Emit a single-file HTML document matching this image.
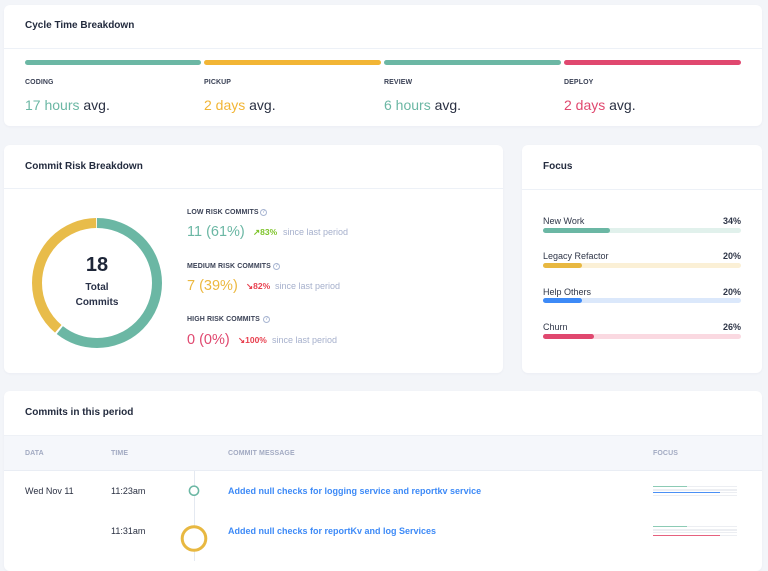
<!DOCTYPE html>
<html><head><meta charset="utf-8"><style>
*{margin:0;padding:0;box-sizing:border-box}
body{width:768px;height:554px;overflow:hidden;background:#f3f5f9;position:relative;font-family:"Liberation Sans",sans-serif;color:#232b3e}
.card{position:absolute;background:#fff;border-radius:6px;box-shadow:0 1px 2px rgba(40,60,100,0.04)}
.hr{position:absolute;height:1px;background:#edf1f7}
.t{position:absolute;white-space:nowrap;line-height:1}
.ttl{font-size:10px;font-weight:bold;color:#232b3e}
.lab{font-size:7px;font-weight:bold;color:#3b4256;letter-spacing:0.1px}
.val{font-size:14px;color:#2a3042}
.bar{position:absolute;height:5px;border-radius:3px}
.rv{font-size:14.5px}
.ch{font-size:8.5px;font-weight:bold}
.since{font-size:9px;color:#a6b0cc}
.q{position:absolute;width:7px;height:7px;border:1px solid #a9b6d2;border-radius:50%;font-size:5px;line-height:5px;text-align:center;color:#a9b6d2;font-weight:bold}
.fl{font-size:9px;color:#2f3648}
.fp{font-size:9px;font-weight:bold;color:#2f3648}
.hd{font-size:7px;font-weight:bold;color:#a2aac2;letter-spacing:0.1px}
.cell{font-size:9px;color:#2a3042}
.msg{font-size:9px;font-weight:bold;color:#3d8af7}
.ml{position:absolute;height:1.4px;background:#eceef2}
</style></head><body>

<!-- Card 1 -->
<div class="card" style="left:4px;top:5px;width:758px;height:121px"></div>
<div class="hr" style="left:4px;top:48px;width:758px"></div>
<div class="t ttl" style="left:25px;top:21px">Cycle Time Breakdown</div>
<div class="bar" style="left:25px;top:60px;width:176px;background:#6bb7a4"></div>
<div class="bar" style="left:204px;top:60px;width:177px;background:#f2b535"></div>
<div class="bar" style="left:384px;top:60px;width:177px;background:#6bb7a4"></div>
<div class="bar" style="left:564px;top:60px;width:177px;background:#e0486f"></div>
<div class="t lab" style="left:25px;top:78.5px">CODING</div>
<div class="t lab" style="left:204px;top:78.5px">PICKUP</div>
<div class="t lab" style="left:384px;top:78.5px">REVIEW</div>
<div class="t lab" style="left:564px;top:78.5px">DEPLOY</div>
<div class="t val" style="left:25px;top:98px"><span style="color:#6bb7a4">17 hours</span> avg.</div>
<div class="t val" style="left:204px;top:98px"><span style="color:#f2b535">2 days</span> avg.</div>
<div class="t val" style="left:384px;top:98px"><span style="color:#6bb7a4">6 hours</span> avg.</div>
<div class="t val" style="left:564px;top:98px"><span style="color:#e0486f">2 days</span> avg.</div>

<!-- Card 2 -->
<div class="card" style="left:4px;top:145px;width:499px;height:228px"></div>
<div class="hr" style="left:4px;top:188px;width:499px"></div>
<div class="t ttl" style="left:25px;top:162px">Commit Risk Breakdown</div>
<svg style="position:absolute;left:0;top:0" width="768" height="554">
  <g transform="rotate(-90 97 283)">
    <circle cx="97" cy="283" r="60" fill="none" stroke="#6bb7a4" stroke-width="10" stroke-dasharray="228.5 400"/>
    <circle cx="97" cy="283" r="60" fill="none" stroke="#e8bc4a" stroke-width="10" stroke-dasharray="145.5 400" stroke-dashoffset="-230.5"/>
  </g>
</svg>
<div class="t" style="left:47px;width:100px;text-align:center;top:255px;font-size:20px;font-weight:bold;color:#1e2638">18</div>
<div class="t" style="left:47px;width:100px;text-align:center;top:283px;font-size:10px;font-weight:bold;color:#2a3248">Total</div>
<div class="t" style="left:47px;width:100px;text-align:center;top:298px;font-size:10px;font-weight:bold;color:#2a3248">Commits</div>

<div class="t lab" style="left:187px;top:208.5px">LOW RISK COMMITS</div>
<div class="q" style="left:260px;top:208.5px">?</div>
<div class="t rv" style="left:187px;top:225px;color:#6bb7a4">11 (61%)</div>
<div class="t ch" style="left:253px;top:228px;color:#7dc329">↗83%</div>
<div class="t since" style="left:283px;top:227.5px">since last period</div>

<div class="t lab" style="left:187px;top:262.5px">MEDIUM RISK COMMITS</div>
<div class="q" style="left:273px;top:262.5px">?</div>
<div class="t rv" style="left:187px;top:279px;color:#ecb83f">7 (39%)</div>
<div class="t ch" style="left:246px;top:282px;color:#e8404f">↘82%</div>
<div class="t since" style="left:275px;top:281.5px">since last period</div>

<div class="t lab" style="left:187px;top:315.5px">HIGH RISK COMMITS</div>
<div class="q" style="left:263px;top:315.5px">?</div>
<div class="t rv" style="left:187px;top:333px;color:#e0486f">0 (0%)</div>
<div class="t ch" style="left:238px;top:336px;color:#e8404f">↘100%</div>
<div class="t since" style="left:272px;top:335.5px">since last period</div>

<!-- Card 3 -->
<div class="card" style="left:522px;top:145px;width:240px;height:228px"></div>
<div class="hr" style="left:522px;top:189px;width:240px"></div>
<div class="t ttl" style="left:543px;top:162px">Focus</div>

<div class="t fl" style="left:543px;top:216.5px">New Work</div>
<div class="t fp" style="left:680px;width:61px;text-align:right;top:216.5px">34%</div>
<div class="bar" style="left:543px;top:227.5px;width:198px;background:#e1f1ec"></div>
<div class="bar" style="left:543px;top:227.5px;width:67px;background:#6bb7a4"></div>

<div class="t fl" style="left:543px;top:251.5px">Legacy Refactor</div>
<div class="t fp" style="left:680px;width:61px;text-align:right;top:251.5px">20%</div>
<div class="bar" style="left:543px;top:262.7px;width:198px;background:#fbf0d6"></div>
<div class="bar" style="left:543px;top:262.7px;width:39px;background:#e8b841"></div>

<div class="t fl" style="left:543px;top:287.5px">Help Others</div>
<div class="t fp" style="left:680px;width:61px;text-align:right;top:287.5px">20%</div>
<div class="bar" style="left:543px;top:298.3px;width:198px;background:#dbe8fb"></div>
<div class="bar" style="left:543px;top:298.3px;width:39px;background:#3d8af7"></div>

<div class="t fl" style="left:543px;top:322.5px">Churn</div>
<div class="t fp" style="left:680px;width:61px;text-align:right;top:322.5px">26%</div>
<div class="bar" style="left:543px;top:334px;width:198px;background:#fad9e1"></div>
<div class="bar" style="left:543px;top:334px;width:51px;background:#e0486f"></div>

<!-- Card 4 -->
<div class="card" style="left:4px;top:391px;width:758px;height:180px"></div>
<div class="t ttl" style="left:25px;top:408px">Commits in this period</div>
<div style="position:absolute;left:4px;top:435px;width:758px;height:36px;background:#f5f7fb;border-top:1px solid #eef1f6;border-bottom:1px solid #e9edf4"></div>
<div class="t hd" style="left:25px;top:449.5px">DATA</div>
<div class="t hd" style="left:111px;top:449.5px">TIME</div>
<div class="t hd" style="left:228px;top:449.5px">COMMIT MESSAGE</div>
<div class="t hd" style="left:653px;top:449.5px">FOCUS</div>

<div style="position:absolute;left:193.5px;top:471px;width:1px;height:90px;background:#e4e9f1"></div>
<svg style="position:absolute;left:0;top:0" width="768" height="554">
  <circle cx="194" cy="490.7" r="4.6" fill="#fff" stroke="#6bb7a4" stroke-width="1.5"/>
  <circle cx="194" cy="538.5" r="11.8" fill="#fff" stroke="#e8b841" stroke-width="3"/>
</svg>

<div class="t cell" style="left:25px;top:486.5px">Wed Nov 11</div>
<div class="t cell" style="left:111px;top:486.5px">11:23am</div>
<div class="t msg" style="left:228px;top:486.5px">Added null checks for logging service and reportkv service</div>
<div class="t cell" style="left:111px;top:526.5px">11:31am</div>
<div class="t msg" style="left:228px;top:526.5px">Added null checks for reportKv and log Services</div>

<!-- mini focus bars row1 -->
<div class="ml" style="left:653px;top:486px;width:84px"></div>
<div class="ml" style="left:653px;top:489.3px;width:84px"></div>
<div class="ml" style="left:653px;top:492px;width:84px"></div>
<div class="ml" style="left:653px;top:494.7px;width:84px"></div>
<div class="ml" style="left:653px;top:486px;width:34px;background:#8ccbb5"></div>
<div class="ml" style="left:653px;top:492px;width:67px;background:#4a90f5"></div>
<!-- row2 -->
<div class="ml" style="left:653px;top:526px;width:84px"></div>
<div class="ml" style="left:653px;top:529.3px;width:84px"></div>
<div class="ml" style="left:653px;top:532px;width:84px"></div>
<div class="ml" style="left:653px;top:534.7px;width:84px"></div>
<div class="ml" style="left:653px;top:526px;width:34px;background:#8ccbb5"></div>
<div class="ml" style="left:653px;top:534.5px;width:67px;background:#e6607e"></div>

</body></html>
